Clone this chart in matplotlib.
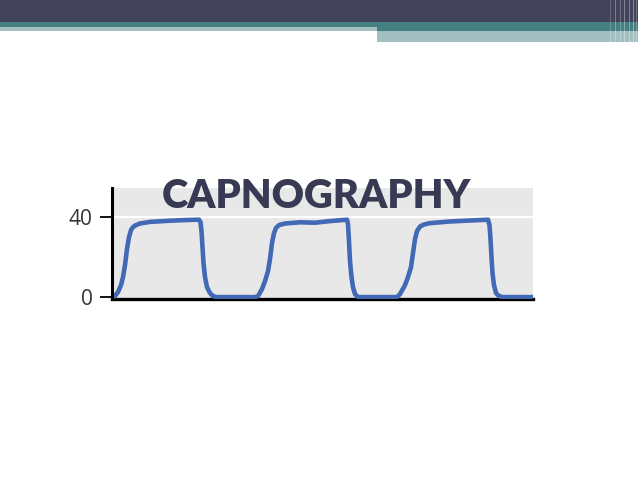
import matplotlib.pyplot as plt
from matplotlib.patches import Rectangle

# waveform samples (time in arbitrary units, CO2 in mmHg)
t = [0.0, 0.3, 0.6, 0.9, 1.1, 1.3, 1.5, 1.7, 1.9, 2.1, 2.4, 2.8, 3.8, 5.8, 7.8, 8.7,
     8.85, 8.95, 9.05, 9.15, 9.3, 9.5, 9.8, 10.1, 10.5, 14.3,
     14.6, 15.0, 15.3, 15.6, 15.8, 16.0, 16.2, 16.4, 16.7, 17.3, 18.8, 20.3, 21.8, 23.5,
     23.6, 23.7, 23.8, 23.95, 24.1, 24.3, 24.6, 28.5,
     28.8, 29.3, 29.6, 29.9, 30.1, 30.3, 30.5, 30.8, 31.2, 31.8, 33.8, 35.8, 37.6,
     37.75, 37.85, 37.95, 38.05, 38.2, 38.4, 38.7, 39.1, 42.1]
co2 = [0.0, 0.6, 2.5, 6, 10, 16, 24, 30, 33.5, 35, 36, 36.8, 37.6, 38.2, 38.6, 38.7,
       37.5, 33, 25, 17, 10, 5, 2, 0.5, 0, 0,
       0.5, 4, 8, 13, 19, 27, 32, 34.6, 36, 36.8, 37.4, 37.2, 38, 38.7,
       36.5, 28, 18, 10, 5, 1.5, 0, 0,
       1.5, 6, 10, 15, 22, 29, 33, 35.3, 36.3, 37, 37.8, 38.3, 38.7,
       36, 29, 20, 12, 6, 2, 0.5, 0, 0]
yticks = [0, 40]
title = 'CAPNOGRAPHY'

W, H = 638, 478
fig = plt.figure(figsize=(W / 100, H / 100), dpi=100)

def frect(x0, y0, x1, y1, color, **kw):
    # rectangle given in pixel coords (top-left origin)
    fig.patches.append(Rectangle((x0 / W, 1 - y1 / H), (x1 - x0) / W, (y1 - y0) / H,
                                 transform=fig.transFigure, color=color, lw=0, **kw))

# slide header bands
frect(0, 0, W, 22, '#42425a')
frect(0, 22, W, 27.5, '#44807f')
frect(377, 22, W, 31, '#44807f')
frect(0, 27.5, 377, 31, '#a5c0c3')
frect(377, 31, W, 42, '#a3bfc2')
for xs, a in [(610, 0.2), (615, 0.3), (620, 0.25), (624, 0.35), (629, 0.3), (633, 0.4), (636, 0.25)]:
    frect(xs, 0, xs + 1, 42, 'white', alpha=a)

ax = fig.add_axes([112 / W, 1 - 298.5 / H, (533 - 112) / W, (298.5 - 187.5) / H])
ax.set_facecolor('#e8e8e8')
ax.plot(t, co2, color='#4169b5', lw=3.3, solid_capstyle='round', solid_joinstyle='round', zorder=3)
ax.axhline(40, color='white', lw=1.6, zorder=1)
ax.set_xlim(0, 42.1)
ax.set_ylim(-0.7, 54.8)
ax.set_xticks([])
ax.set_yticks(yticks)
ax.set_yticklabels([str(v) for v in yticks], fontsize=15, color='#333333', family='Open Sans')
ax.tick_params(axis='y', length=9, width=1.3, pad=5, color='black')
for s in ['top', 'right']:
    ax.spines[s].set_visible(False)
ax.spines['left'].set_linewidth(2.2)
ax.spines['bottom'].set_linewidth(2.4)
ax.spines['left'].set_zorder(4)
ax.spines['bottom'].set_zorder(2)

fig.text(316 / W, 1 - 196 / H, title, ha='center', va='center', fontsize=28.7,
         fontweight='heavy', family='Lato', color='#373a52')

fig.savefig('out.png', dpi=100)
plt.close(fig)
